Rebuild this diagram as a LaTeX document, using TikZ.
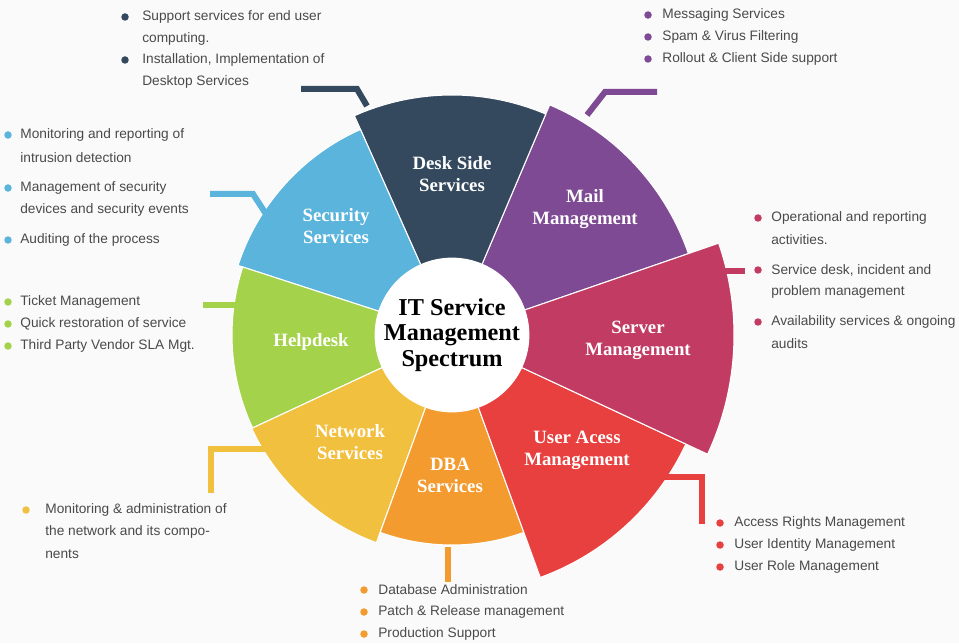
\documentclass[tikz,border=0pt]{standalone}
\usepackage{fontspec}
\setmainfont{Liberation Serif}
\setsansfont{Liberation Sans}
\definecolor{cDesk}{HTML}{34495E}
\definecolor{cMail}{HTML}{7E4A93}
\definecolor{cServer}{HTML}{C23B63}
\definecolor{cUser}{HTML}{E8403F}
\definecolor{cDba}{HTML}{F39B2F}
\definecolor{cNet}{HTML}{F2C03F}
\definecolor{cHelp}{HTML}{A5D24B}
\definecolor{cSec}{HTML}{5AB4DB}
\definecolor{cText}{HTML}{4A4A4A}
\begin{document}
\begin{tikzpicture}[x=0.02cm,y=0.02cm]
    \tikzstyle{item} = [ anchor=west, inner sep=0pt, yshift=-0.04cm, text=cText, font=\sffamily\fontsize{7.8}{9}\selectfont ];
    \tikzstyle{dot} = [ circle, inner sep=0pt, minimum size=0.15cm, yshift=-0.04cm ];
    \tikzstyle{seg} = [ font=\bfseries\fontsize{10.7}{12.5}\selectfont, text=white, align=center ];
    \tikzstyle{link} = [ line width=0.12cm ];

    \useasboundingbox [fill=white!98!black] (0,0) rectangle (959,643);
    \coordinate (cC) at (452,308);

    % wheel
    \foreach \col/\a/\b/\r in {cMail/19/67/250, cDesk/67/114/240, cSec/114/162/225, cHelp/162/205/220,
        cNet/205/250/221, cDba/250/290/210, cUser/290/335/258, cServer/335/379/282}
        \filldraw [fill=\col, draw=white, line width=0.6pt] (cC) -- ++(\a:\r) arc [start angle=\a, end angle=\b, radius=\r] -- cycle;
    \node (nCentre) [circle, fill=white, minimum size=2.9cm, inner sep=0pt, align=center,
        font=\bfseries\fontsize{13.8}{14.7}\selectfont] at (cC) {IT Service\\Management\\Spectrum};

    \node (nDesk) [seg] at (452,469) {Desk Side\\Services};
    \node (nMail) [seg] at (585,434) {Mail\\Management};
    \node (nSec) [seg] at (336,417) {Security\\Services};
    \node (nHelp) [seg] at (311,301) {Helpdesk};
    \node (nServer) [seg] at (638,303) {Server\\Management};
    \node (nUser) [seg] at (577,193) {User Acess\\Management};
    \node (nNet) [seg] at (350,201) {Network\\Services};
    \node (nDba) [seg] at (450,168) {DBA\\Services};

    % connectors
    \draw [link, cDesk] (367,537) -- (357,554) -- (301,554);
    \draw [link, cMail] (587,528) -- (605,551) -- (657,551);
    \draw [link, cSec] (266,429) -- (253,449) -- (210,449);
    \draw [link, cHelp] (240,338) -- (203,338);
    \draw [link, cServer] (712,372) -- (745,372);
    \draw [link, cUser] (650,166) -- (702,166) -- (702,119);
    \draw [link, cDba] (448,96) -- (448,61);
    \draw [link, cNet] (280,194) -- (211,194) -- (211,150);

    % lists
    \node (dDesk1) [dot, fill=cDesk] at (125,628) {};
    \node (tDesk1) [item] at (142,628) {Support services for end user};
    \node (tDesk1b) [item] at (142,606) {computing.};
    \node (dDesk2) [dot, fill=cDesk] at (125,585) {};
    \node (tDesk2) [item] at (142,585) {Installation, Implementation of};
    \node (tDesk2b) [item] at (142,563) {Desktop Services};

    \node (dMail1) [dot, fill=cMail] at (648,630) {};
    \node (tMail1) [item] at (662,630) {Messaging Services};
    \node (dMail2) [dot, fill=cMail] at (648,608) {};
    \node (tMail2) [item] at (662,608) {Spam \& Virus Filtering};
    \node (dMail3) [dot, fill=cMail] at (648,586) {};
    \node (tMail3) [item] at (662,586) {Rollout \& Client Side support};

    \node (dSec1) [dot, fill=cSec] at (8,510) {};
    \node (tSec1) [item] at (20,510) {Monitoring and reporting of};
    \node (tSec1b) [item] at (20,487) {intrusion detection};
    \node (dSec2) [dot, fill=cSec] at (8,457) {};
    \node (tSec2) [item] at (20,457) {Management of security};
    \node (tSec2b) [item] at (20,435) {devices and security events};
    \node (dSec3) [dot, fill=cSec] at (8,405) {};
    \node (tSec3) [item] at (20,405) {Auditing of the process};

    \node (dHelp1) [dot, fill=cHelp] at (8,343) {};
    \node (tHelp1) [item] at (20,343) {Ticket Management};
    \node (dHelp2) [dot, fill=cHelp] at (8,321) {};
    \node (tHelp2) [item] at (20,321) {Quick restoration of service};
    \node (dHelp3) [dot, fill=cHelp] at (8,299) {};
    \node (tHelp3) [item] at (20,299) {Third Party Vendor SLA Mgt.};

    \node (dServer1) [dot, fill=cServer] at (758,427) {};
    \node (tServer1) [item] at (771,427) {Operational and reporting};
    \node (tServer1b) [item] at (771,405) {activities.};
    \node (dServer2) [dot, fill=cServer] at (758,375) {};
    \node (tServer2) [item] at (771,375) {Service desk, incident and};
    \node (tServer2b) [item] at (771,353) {problem management};
    \node (dServer3) [dot, fill=cServer] at (758,323) {};
    \node (tServer3) [item] at (771,323) {Availability services \& ongoing};
    \node (tServer3b) [item] at (771,301) {audits};

    \node (dUser1) [dot, fill=cUser] at (720,122) {};
    \node (tUser1) [item] at (734,122) {Access Rights Management};
    \node (dUser2) [dot, fill=cUser] at (720,100) {};
    \node (tUser2) [item] at (734,100) {User Identity Management};
    \node (dUser3) [dot, fill=cUser] at (720,78) {};
    \node (tUser3) [item] at (734,78) {User Role Management};

    \node (dDba1) [dot, fill=cDba] at (364,55) {};
    \node (tDba1) [item] at (378,55) {Database Administration};
    \node (dDba2) [dot, fill=cDba] at (364,33) {};
    \node (tDba2) [item] at (378,33) {Patch \& Release management};
    \node (dDba3) [dot, fill=cDba] at (364,11) {};
    \node (tDba3) [item] at (378,11) {Production Support};

    \node (dNet1) [dot, fill=cNet] at (26,135) {};
    \node (tNet1) [item] at (45,135) {Monitoring \& administration of};
    \node (tNet1b) [item] at (45,113) {the network and its compo-};
    \node (tNet1c) [item] at (45,91) {nents};
\end{tikzpicture}
\end{document}
